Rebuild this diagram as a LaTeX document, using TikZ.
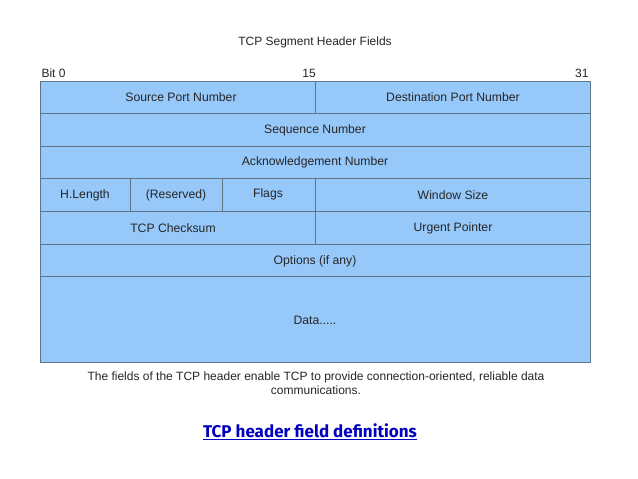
\documentclass[tikz,border=0pt]{standalone}
\usepackage{fontspec}
\setmainfont{Liberation Sans}
\newfontfamily\linkfont{Fira Sans}
\begin{document}
\begin{tikzpicture}[x=1pt,y=-1pt,
  cell/.style={draw=none,font=\fontsize{12.2}{14}\selectfont,text=black!85},
  lbl/.style={font=\fontsize{12}{14.5}\selectfont,text=black!85}]
\definecolor{cellfill}{RGB}{150,200,250}
\definecolor{cellline}{RGB}{95,115,135}
\useasboundingbox (0,0) rectangle (638,479);
\fill[white] (0,0) rectangle (638,479);
\node[lbl] (title) at (315,42) {TCP Segment Header Fields};
\node[lbl,anchor=west] (b0) at (38,73) {Bit 0};
\node[lbl] (b15) at (309,73) {15};
\node[lbl,anchor=east] (b31) at (592,73) {31};
\fill[cellfill] (40,81) rectangle (590,362);
\draw[cellline,line width=1pt] (40,81) rectangle (590,362);
\foreach \y in {113,146,178,211,244,276} \draw[cellline,line width=1pt] (40,\y) -- (590,\y);
\draw[cellline,line width=1pt] (315,81) -- (315,113);
\draw[cellline,line width=1pt] (315,178) -- (315,244);
\draw[cellline,line width=1pt] (130,178) -- (130,211);
\draw[cellline,line width=1pt] (222,178) -- (222,211);
\node[cell] (sp) at (181,97) {Source Port Number};
\node[cell] (dp) at (453,97) {Destination Port Number};
\node[cell] (seq) at (315,130) {Sequence Number};
\node[cell] (ack) at (315,162) {Acknowledgement Number};
\node[cell] (hl) at (85,195) {H.Length};
\node[cell] (res) at (176,195) {(Reserved)};
\node[cell] (fl) at (268,194) {Flags};
\node[cell] (ws) at (453,195) {Window Size};
\node[cell] (cs) at (173,228) {TCP Checksum};
\node[cell] (up) at (453,228) {Urgent Pointer};
\node[cell] (opt) at (315,261) {Options (if any)};
\node[cell] (data) at (315,320) {Data.....};
\node[lbl,align=center] (cap) at (316,383) {The fields of the TCP header enable TCP to provide connection-oriented, reliable data\\communications.};
\node[text=blue!75!black,font=\linkfont\bfseries\fontsize{17}{20}\selectfont] (link) at (310,432) {\underline{TCP header field definitions}};
\end{tikzpicture}
\end{document}
